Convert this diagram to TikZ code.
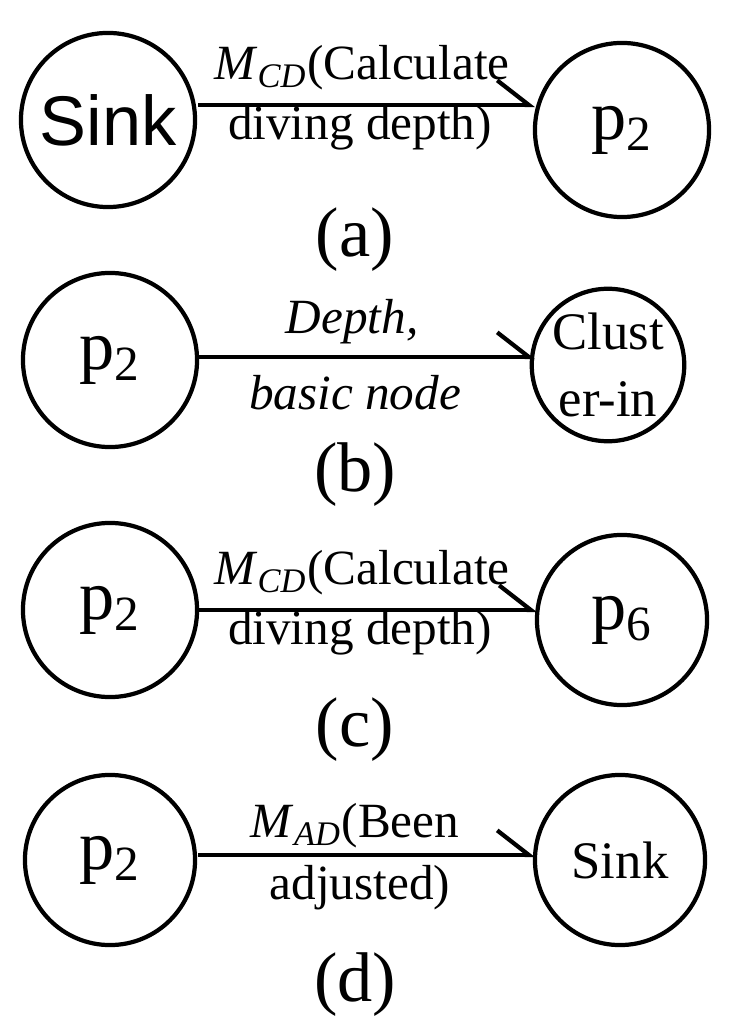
\documentclass[tikz,border=0pt]{standalone}
\usepackage{fontspec}
\setmainfont{Liberation Serif}
\newfontfamily\sinkfont{Liberation Sans}
\usetikzlibrary{arrows.meta}
\newcommand{\msub}[2]{\textit{#1}\textsubscript{\textit{#2}}}
\tikzset{
  state/.style={draw,very thick,circle,inner sep=0pt},
  msg/.style={very thick,-{Straight Barb[left,length=9pt,width=14pt]}},
  lbl/.style={font=\fontsize{14}{16}\selectfont},
  subcap/.style={font=\fontsize{20}{22}\selectfont}
}
\begin{document}
\begin{tikzpicture}[x=0.01cm,y=-0.01cm]
        \useasboundingbox (0,0) rectangle (734,1028);

        % (a)
        \node[state,minimum size=1.74cm,font=\fontsize{20}{22}\selectfont\sinkfont] (sinkA) at (108,120) {Sink};
        \node[state,minimum size=1.74cm,font=\fontsize{20}{22}\selectfont] (p2A) at (622,130) {p\textsubscript{2}};
        \draw[msg] (198,105) -- (535,105);
        \node[lbl] (labA1) at (362,68) {\msub{M}{CD}(Calculate};
        \node[lbl] (labA2) at (360,128) {diving depth)};
        \node[subcap] (capA) at (355,240) {(a)};

        % (b)
        \node[state,minimum size=1.74cm,font=\fontsize{20}{22}\selectfont] (p2B) at (110,360) {p\textsubscript{2}};
        \node[state,minimum size=1.5cm,align=center,font=\fontsize{15}{19}\selectfont] (clusterB) at (608,365) {Clust\\er-in};
        \draw[msg] (198,357) -- (535,357);
        \node[font=\fontsize{14}{16}\selectfont\itshape] (labB1) at (352,322) {Depth,};
        \node[font=\fontsize{14}{16}\selectfont\itshape] (labB2) at (355,393) {basic node};
        \node[subcap] (capB) at (355,475) {(b)};

        % (c)
        \node[state,minimum size=1.74cm,font=\fontsize{20}{22}\selectfont] (p2C) at (110,610) {p\textsubscript{2}};
        \node[state,minimum size=1.7cm,font=\fontsize{20}{22}\selectfont] (p6C) at (622,620) {p\textsubscript{6}};
        \draw[msg] (198,610) -- (537,610);
        \node[lbl] (labC1) at (362,573) {\msub{M}{CD}(Calculate};
        \node[lbl] (labC2) at (360,633) {diving depth)};
        \node[subcap] (capC) at (355,730) {(c)};

        % (d)
        \node[state,minimum size=1.7cm,font=\fontsize{20}{22}\selectfont] (p2D) at (110,860) {p\textsubscript{2}};
        \node[state,minimum size=1.7cm,font=\fontsize{15}{18}\selectfont] (sinkD) at (620,860) {Sink};
        \draw[msg] (198,855) -- (535,855);
        \node[lbl] (labD1) at (355,826) {\msub{M}{AD}(Been};
        \node[lbl] (labD2) at (360,888) {adjusted)};
        \node[subcap] (capD) at (355,985) {(d)};
\end{tikzpicture}
\end{document}
